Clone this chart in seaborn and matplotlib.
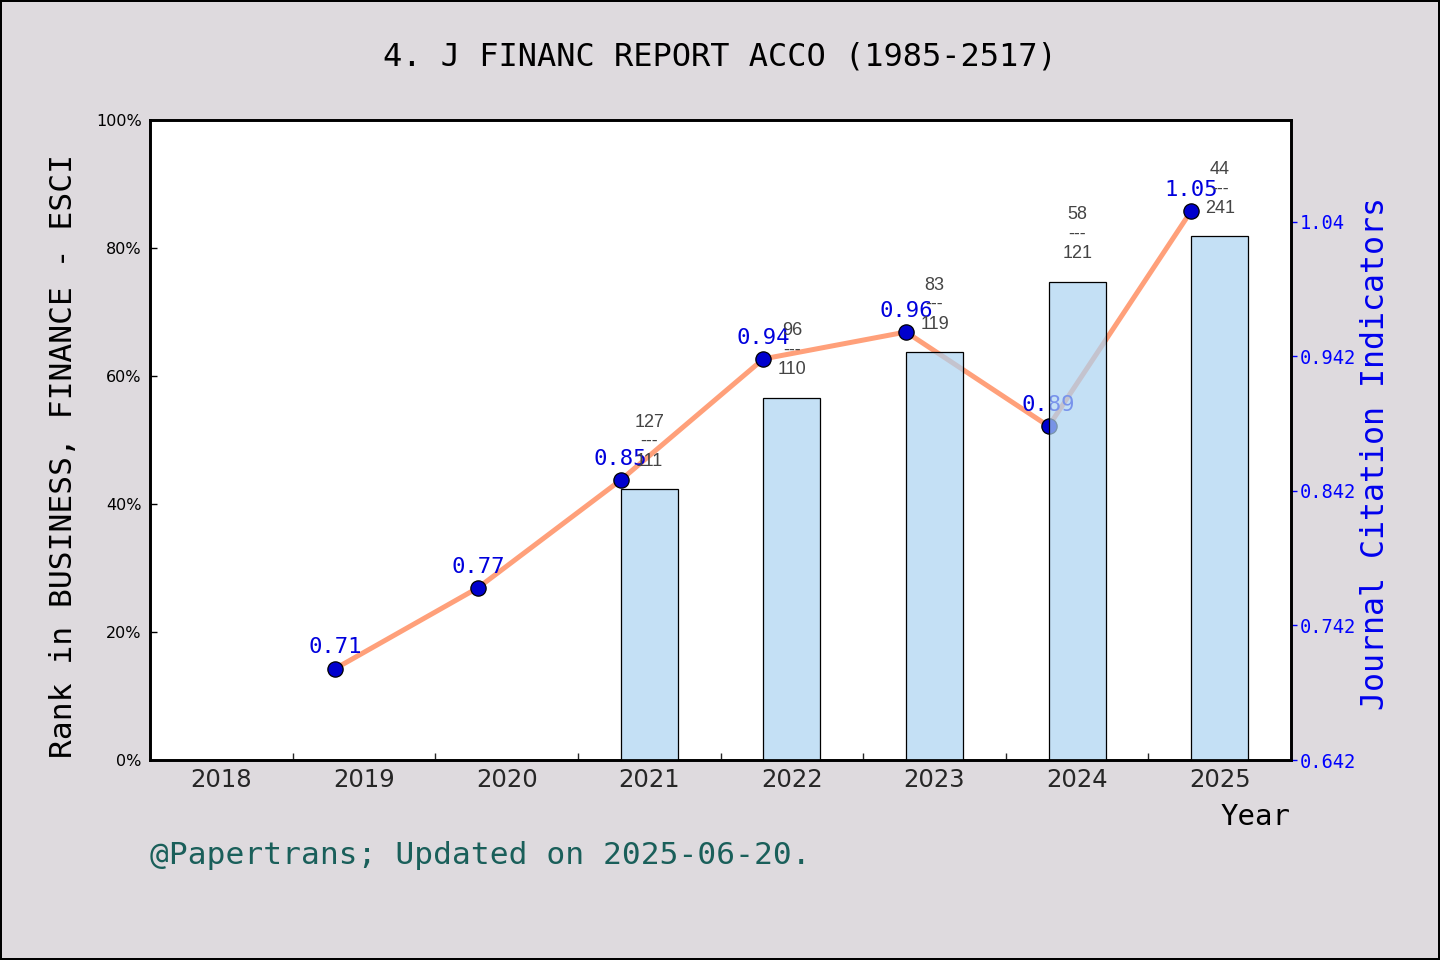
import numpy as np
import pandas as pd
import matplotlib
matplotlib.use("Agg")
import matplotlib.pyplot as plt
from matplotlib.ticker import FixedLocator, PercentFormatter
import seaborn as sns

# data
years = ["2018", "2019", "2020", "2021", "2022", "2023", "2024", "2025"]
bar_years = ["2021", "2022", "2023", "2024", "2025"]
rank_pct = [0.423, 0.566, 0.637, 0.747, 0.818]
rank_pos = [127, 96, 83, 58, 44]
rank_total = [111, 110, 119, 121, 241]
jci_years = ["2019", "2020", "2021", "2022", "2023", "2024", "2025"]
jci = [0.71, 0.77, 0.85, 0.94, 0.96, 0.89, 1.05]
jci_ticks = [0.642, 0.742, 0.842, 0.942, 1.042]
jci_tick_labels = ["0.642", "0.742", "0.842", "0.942", "1.04"]

sns.set_style("ticks")
plt.rcParams["font.family"] = ["DejaVu Sans"]
MONO = ["DejaVu Sans Mono"]
BG = "#dedade"

fig = plt.figure(figsize=(14.4, 9.6), dpi=100, facecolor=BG)
fig.patch.set_edgecolor("black")
fig.patch.set_linewidth(1.5)
ax = fig.add_axes([0.1042, 0.2083, 0.7924, 0.6667])

bar_df = pd.DataFrame({"year": years,
                       "pct": [np.nan] * (len(years) - len(bar_years)) + rank_pct})
sns.barplot(data=bar_df, x="year", y="pct", order=years, ax=ax, width=0.4,
            color="#acd3f2", saturation=1,
            edgecolor="black", linewidth=0.9)
# translucent fill, solid black edge
for p in ax.patches:
    p.set_facecolor((172 / 255, 211 / 255, 242 / 255, 0.7))
    p.set_edgecolor("black")

ax2 = ax.twinx()
line_x = [years.index(y) - 0.2 for y in jci_years]
sns.lineplot(x=line_x, y=jci, ax=ax2, color="#ffa07a", linewidth=3.6,
             marker="o", markersize=11, markerfacecolor="#0000cd",
             markeredgecolor="black", markeredgewidth=0.9)
for x, v in zip(line_x, jci):
    ax2.annotate(f"{v:.2f}", (x, v), xytext=(0, 8), textcoords="offset points",
                 ha="center", va="bottom", color="#0000dd", fontsize=16,
                 family=MONO)

# bars drawn over the line
ax.set_zorder(2)
ax2.set_zorder(1)
ax.patch.set_visible(False)
ax2.patch.set_visible(True)
ax2.patch.set_facecolor("white")

for y, p, r, t in zip(bar_years, rank_pct, rank_pos, rank_total):
    ax.annotate(f"{r}\n---\n{t}", (years.index(y), p), xytext=(0, 14),
                textcoords="offset points", ha="center", va="bottom",
                multialignment="center", color="#444444", fontsize=13,
                family=["Liberation Sans"], linespacing=1.2)

ax.set_xlim(-0.5, len(years) - 0.5)
ax.set_ylim(0, 1)
ax.yaxis.set_major_locator(FixedLocator([0, 0.2, 0.4, 0.6, 0.8, 1.0]))
ax.yaxis.set_major_formatter(PercentFormatter(1.0, decimals=0))
ax.tick_params(axis="y", direction="in", length=5, width=1, labelsize=11.5,
               colors="black", pad=6)
ax.set_xticks(range(len(years)))
ax.set_xticklabels(years)
ax.set_xticks(np.arange(0.5, len(years) - 1), minor=True)
ax.tick_params(axis="x", which="major", length=0, labelsize=17.5, pad=6)
ax.tick_params(axis="x", which="minor", direction="in", length=5, width=1)
ax.set_xlabel("")
ax.set_ylabel("")

ax2.set_ylim(0.642, 1.1175)
ax2.set_yticks(jci_ticks)
ax2.set_yticklabels(jci_tick_labels, family=MONO)
ax2.tick_params(axis="y", direction="out", length=4, width=1, colors="#0000ff",
                labelsize=13.5, pad=2)
ax2.set_ylabel("")

for a in (ax, ax2):
    for s in a.spines.values():
        s.set_visible(True)
        s.set_color("black")
        s.set_linewidth(1.9)

fig.text(0.5, 0.9406, "4. J FINANC REPORT ACCO (1985-2517)", ha="center",
         va="center", fontsize=23, family=MONO, color="black")
fig.text(0.044, 0.525, "Rank in BUSINESS, FINANCE - ESCI", rotation=90,
         ha="center", va="center", fontsize=22.5, family=MONO, color="black")
fig.text(0.955, 0.528, "Journal Citation Indicators", rotation=90,
         ha="center", va="center", fontsize=22.8, family=MONO, color="#0000ee")
fig.text(0.8965, 0.149, "Year", ha="right", va="center", fontsize=21,
         family=MONO, color="black")
fig.text(0.104, 0.109, "@Papertrans; Updated on 2025-06-20.", ha="left",
         va="center", fontsize=22.5, family=MONO, color="#1a5f5a")

fig.savefig("out.png", dpi=100, facecolor=BG, edgecolor="black")
